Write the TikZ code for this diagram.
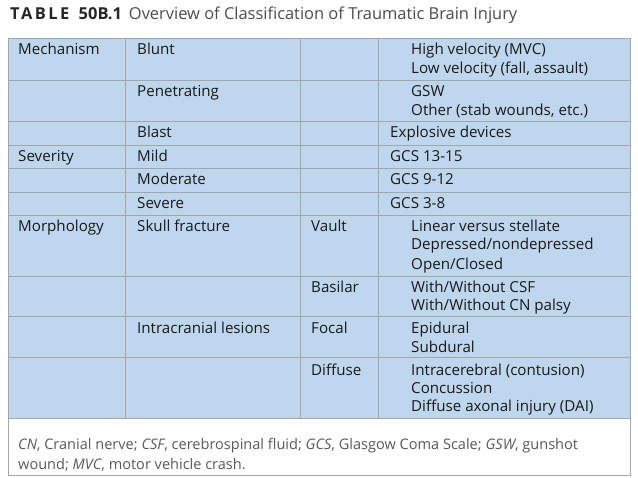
\documentclass[tikz,border=0pt]{standalone}
\usepackage{fontspec}
\setmainfont{Open Sans}
\begin{document}
\begin{tikzpicture}[x=1bp,y=-1bp,
  t/.style={anchor=base west,inner sep=0pt,font=\fontsize{15.2}{17}\selectfont,text=black!90},
  fn/.style={anchor=base west,inner sep=0pt,font=\fontsize{14.6}{16}\selectfont,text=black!65}]
\useasboundingbox (0,0) rectangle (638,478);
\fill[white] (0,0) rectangle (638,478);
\node[anchor=base west,inner sep=0pt,font=\fontsize{16.5}{18}\selectfont,text=black!85] (title) at (10,20)
 {\textbf{\addfontfeature{LetterSpace=15}TABLE}\hspace{7pt}\textbf{50B.1}\hspace{7pt}{\color{black!70}Overview of Classification of Traumatic Brain Injury}};
\fill[fill={rgb,255:red,190;green,215;blue,238}] (8,38) rectangle (630,418);
\draw[black!35] (8,38) rectangle (630,475);
\foreach \y in {80,121,145,168,192,215,276,316,357,418} \draw[black!35] (8,\y) -- (630,\y);
\foreach \x in {125,300,378} \draw[black!35] (\x,38) -- (\x,418);
\node[t] (a1) at (18,55) {Mechanism};
\node[t] (a2) at (137,55) {Blunt};
\node[t] (a3) at (411,55) {High velocity (MVC)};
\node[t] (a4) at (411,74) {Low velocity (fall, assault)};
\node[t] (b1) at (137,97) {Penetrating};
\node[t] (b2) at (411,97) {GSW};
\node[t] (b3) at (411,116) {Other (stab wounds, etc.)};
\node[t] (c1) at (137,138) {Blast};
\node[t] (c2) at (390,138) {Explosive devices};
\node[t] (d0) at (18,162) {Severity};
\node[t] (d1) at (137,162) {Mild};
\node[t] (d2) at (390,162) {GCS 13-15};
\node[t] (e1) at (137,185) {Moderate};
\node[t] (e2) at (390,185) {GCS 9-12};
\node[t] (f1) at (137,209) {Severe};
\node[t] (f2) at (390,209) {GCS 3-8};
\node[t] (g0) at (18,232) {Morphology};
\node[t] (g1) at (137,232) {Skull fracture};
\node[t] (g2) at (311,232) {Vault};
\node[t] (g3) at (411,232) {Linear versus stellate};
\node[t] (g4) at (411,250) {Depressed/nondepressed};
\node[t] (g5) at (411,269) {Open/Closed};
\node[t] (h1) at (311,292) {Basilar};
\node[t] (h2) at (411,292) {With/Without CSF};
\node[t] (h3) at (411,310) {With/Without CN palsy};
\node[t] (i1) at (137,333) {Intracranial lesions};
\node[t] (i2) at (311,333) {Focal};
\node[t] (i3) at (411,333) {Epidural};
\node[t] (i4) at (411,352) {Subdural};
\node[t] (j1) at (311,375) {Diffuse};
\node[t] (j2) at (411,375) {Intracerebral (contusion)};
\node[t] (j3) at (411,393) {Concussion};
\node[t] (j4) at (411,411) {Diffuse axonal injury (DAI)};
\node[fn] (k1) at (18,449) {\textit{CN}, Cranial nerve; \textit{CSF}, cerebrospinal fluid; \textit{GCS}, Glasgow Coma Scale; \textit{GSW}, gunshot};
\node[fn] (k2) at (18,469) {wound; \textit{MVC}, motor vehicle crash.};
\end{tikzpicture}
\end{document}
